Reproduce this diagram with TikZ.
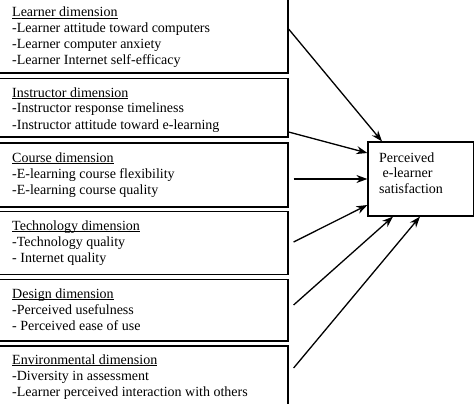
\documentclass[tikz,border=0pt]{standalone}
\usepackage{fontspec}
\setmainfont{Liberation Serif}
\usetikzlibrary{arrows.meta,fit}
\newcommand{\ttl}[1]{\underline{\smash{#1}}}
\begin{document}
\begin{tikzpicture}[x=1pt,y=-1pt,
  boxsty/.style={draw, line width=1.2pt, rectangle, inner sep=0pt},
  txt/.style={anchor=base west, inner sep=0pt, font=\fontsize{14}{16}\selectfont},
  arr/.style={line width=1.3pt, -{Stealth[length=11pt,width=8pt]}}]
\useasboundingbox (0,0) rectangle (474,404);
\begin{scope}
\clip (0,0) rectangle (474,404);
% dimension boxes
\node[boxsty, fit={(-3,-1) (288,73)}] (b1) {};
\node[boxsty, fit={(-3,78.5) (288,137)}] (b2) {};
\node[boxsty, fit={(-3,143) (288,207)}] (b3) {};
\node[boxsty, fit={(-3,211.5) (288,274.5)}] (b4) {};
\node[boxsty, fit={(-3,279.5) (288,341)}] (b5) {};
\node[boxsty, fit={(-3,346) (288,410)}] (b6) {};
% target box
\node[boxsty, fit={(368,142) (474,216)}] (t) {};
\end{scope}
% box texts
\node[txt] (b1l0) at (12,17) {\ttl{Learner dimension}};
\node[txt] (b1l1) at (12,33) {-Learner attitude toward computers};
\node[txt] (b1l2) at (12,49) {-Learner computer anxiety};
\node[txt] (b1l3) at (12,65) {-Learner Internet self-efficacy};
\node[txt] (b2l0) at (12,97) {\ttl{Instructor dimension}};
\node[txt] (b2l1) at (12,113) {-Instructor response timeliness};
\node[txt] (b2l2) at (12,129) {-Instructor attitude toward e-learning};
\node[txt] (b3l0) at (12,162) {\ttl{Course dimension}};
\node[txt] (b3l1) at (12,178) {-E-learning course flexibility};
\node[txt] (b3l2) at (12,194) {-E-learning course quality};
\node[txt] (b4l0) at (12,230) {\ttl{Technology dimension}};
\node[txt] (b4l1) at (12,246) {-Technology quality};
\node[txt] (b4l2) at (12,262) {- Internet quality};
\node[txt] (b5l0) at (12,298) {\ttl{Design dimension}};
\node[txt] (b5l1) at (12,314) {-Perceived usefulness};
\node[txt] (b5l2) at (12,330) {- Perceived ease of use};
\node[txt] (b6l0) at (12,364) {\ttl{Environmental dimension}};
\node[txt] (b6l1) at (12,380) {-Diversity in assessment};
\node[txt] (b6l2) at (12,396) {-Learner perceived interaction with others};
% target text
\node[txt] (tl0) at (379,162) {Perceived};
\node[txt] (tl1) at (379,177) {\ e-learner};
\node[txt] (tl2) at (379,193) {satisfaction};
% connectors
\coordinate (s1) at (b1.east |- 0,29);
\coordinate (s2) at (b2.east |- 0,132);
\coordinate (s3) at ([xshift=5pt]b3.east |- 0,179);
\coordinate (s4) at ([xshift=5pt]b4.east |- 0,242);
\coordinate (s5) at ([xshift=5pt]b5.east |- 0,305);
\coordinate (s6) at ([xshift=5pt]b6.east |- 0,368);
\draw[arr] (s1) -- (t.north west -| 382,0);
\draw[arr] (s2) -- (t.west |- 0,153);
\draw[arr] (s3) -- (t.west |- 0,179);
\draw[arr] (s4) -- (t.west |- 0,205);
\draw[arr] (s5) -- (t.south west -| 393,0);
\draw[arr] (s6) -- (t.south west -| 420,0);
\end{tikzpicture}
\end{document}
